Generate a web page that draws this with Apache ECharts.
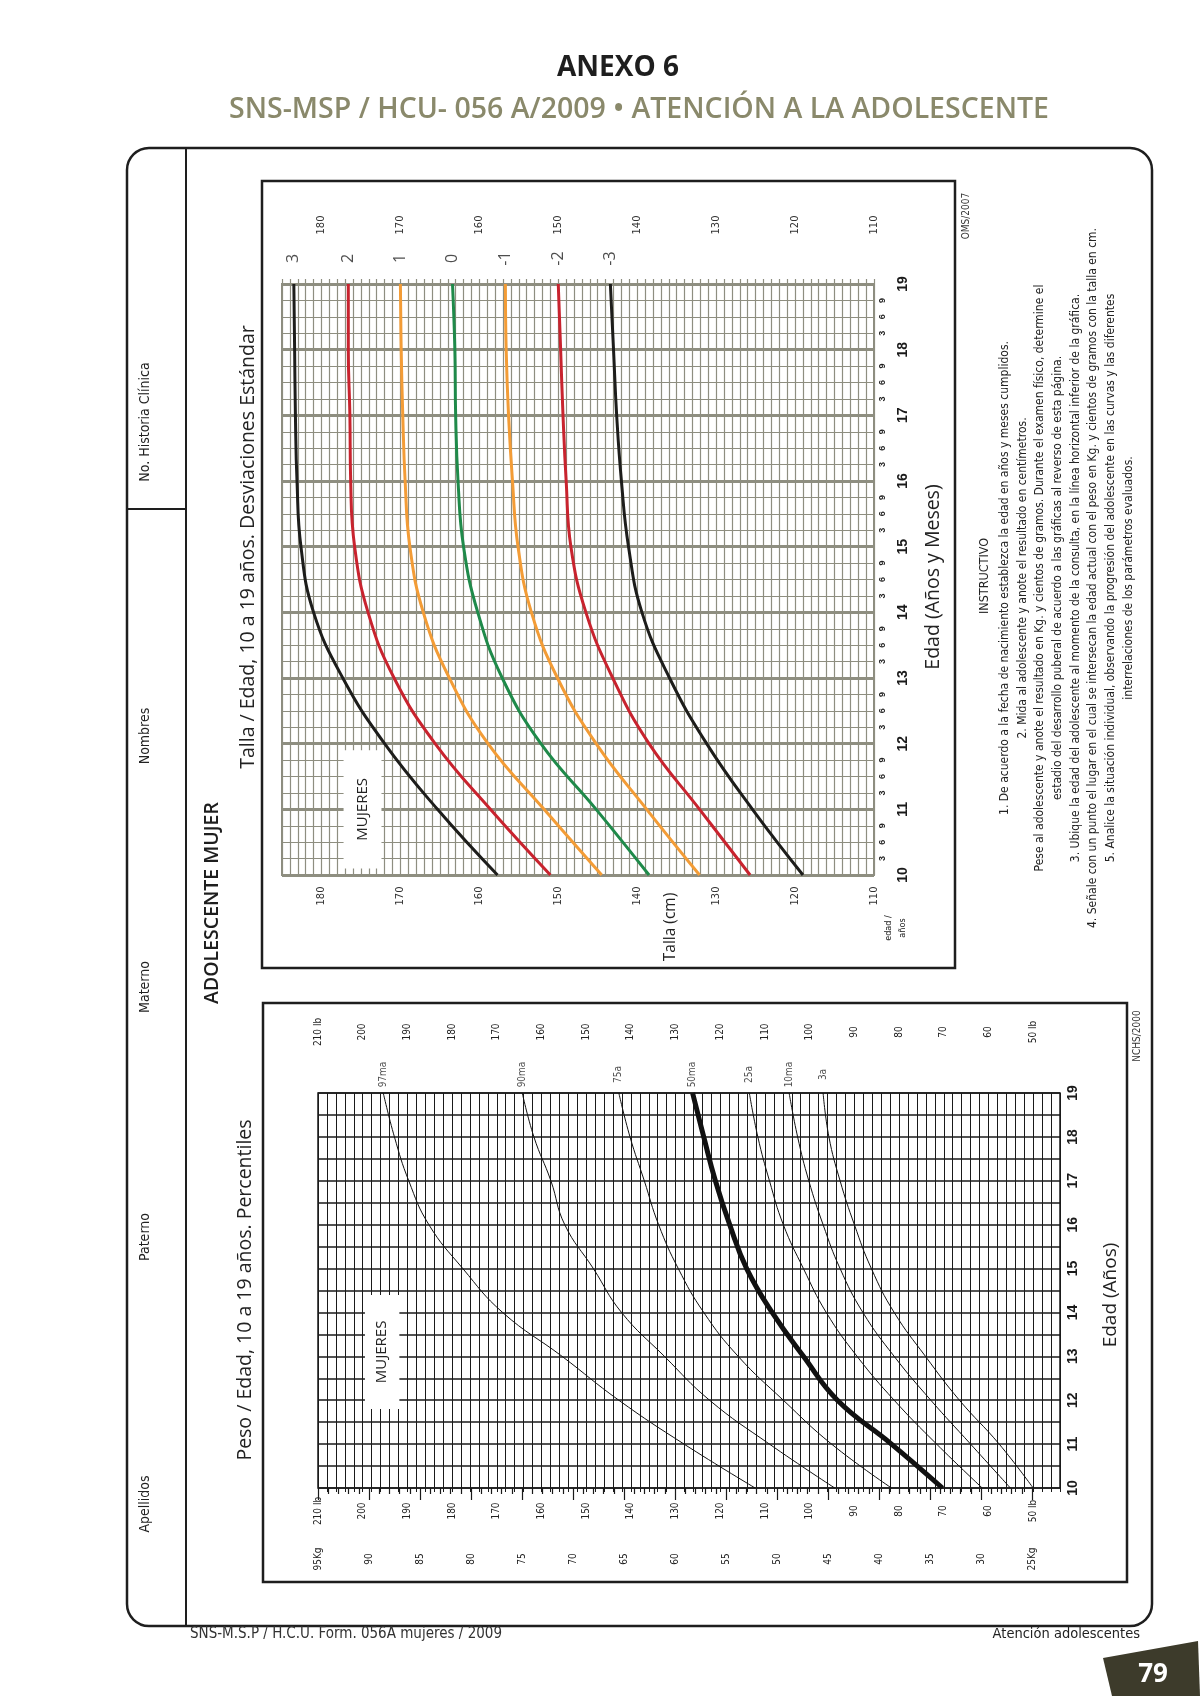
<!DOCTYPE html>
<html>
<head>
<meta charset="utf-8">
<title>Anexo 6 - Atención a la adolescente</title>
<script src="https://cdn.jsdelivr.net/npm/echarts@6.0.0/dist/echarts.min.js"></script>
<style>
  html, body { margin: 0; padding: 0; background: #fff; }
  #main { width: 1200px; height: 1696px; }
</style>
</head>
<body>
<div id="main"></div>
<script>
const edades = [10, 11, 12, 13, 14, 15, 16, 17, 18, 19];

// Talla / Edad (cm), desviaciones estándar OMS 2007
const tallaDE3  = [157.7, 165.3, 172.0, 177.3, 181.0, 182.6, 183.1, 183.3, 183.4, 183.5];
const tallaDE2  = [151.0, 158.6, 165.6, 170.8, 174.1, 175.8, 176.3, 176.4, 176.6, 176.6];
const tallaDE1  = [144.5, 151.8, 158.9, 163.8, 167.1, 168.8, 169.4, 169.7, 169.9, 170.0];
const tallaDE0  = [138.5, 145.2, 152.2, 157.1, 160.2, 162.0, 162.7, 163.0, 163.1, 163.4];
const tallaDEm1 = [132.1, 138.8, 145.2, 150.1, 153.4, 155.1, 155.8, 156.3, 156.6, 156.7];
const tallaDEm2 = [125.7, 132.1, 138.5, 143.1, 146.5, 148.4, 149.0, 149.4, 149.7, 150.0];
const tallaDEm3 = [119.0, 125.4, 131.2, 135.9, 139.4, 141.1, 142.0, 142.6, 143.0, 143.4];
const etiquetasDE = ['3', '2', '1', '0', '-1', '-2', '-3'];

// Peso / Edad (lb), percentiles NCHS 2000
const pesoP97 = [112.2, 128.1, 142.7, 155.4, 168.7, 177.6, 185.2, 189.7, 192.9, 195.4];
const pesoP90 = [94.4, 109.0, 122.4, 132.5, 142.1, 148.4, 154.8, 157.9, 161.7, 164.3];
const pesoP75 = [81.7, 95.1, 105.9, 116.0, 123.7, 129.4, 133.8, 137.0, 140.2, 142.7];
const pesoP50 = [70.3, 81.7, 93.8, 101.4, 108.4, 114.1, 117.9, 121.1, 123.7, 126.2];
const pesoP25 = [61.4, 71.6, 81.1, 89.4, 96.3, 101.4, 105.9, 109.0, 111.6, 113.5];
const pesoP10 = [55.1, 64.0, 72.9, 81.1, 88.1, 93.2, 97.0, 100.2, 102.7, 104.6];
const pesoP3  = [50.0, 57.6, 66.5, 74.1, 81.1, 86.2, 90.0, 93.2, 95.7, 97.0];
const etiquetasPercentil = ['97ma', '90ma', '75a', '50ma', '25a', '10ma', '3a'];

const camposFicha = ['Apellidos', 'Paterno', 'Materno', 'Nombres', 'No. Historia Clínica'];
const instructivo = [
    '1. De acuerdo a la fecha de nacimiento establezca la edad en años y meses cumplidos.',
    '2. Mida al adolescente y anote el resultado en centímetros.',
    'Pese al adolescente y anote el resultado en Kg. y cientos de gramos. Durante el examen físico, determine el',
    'estadio del desarrollo puberal de acuerdo a las gráficas al reverso de esta página.',
    '3. Ubique la edad del adolescente al momento de la consulta, en la línea horizontal inferior de la gráfica.',
    '4. Señale con un punto el lugar en el cual se intersecan la edad actual con el peso en Kg. y cientos de gramos con la talla en cm.',
    '5. Analice la situación individual, observando la progresión del adolescente en las curvas y las diferentes',
    'interrelaciones de los parámetros evaluados.'
];

const COND = "'DejaVu Sans Condensed', 'Liberation Sans Narrow', sans-serif";
const GRIS = '#8e8e80';

// texto girado 90° (se lee de abajo hacia arriba)
const vtext = (txt, x, y, font, fill, align) => ({
    type: 'text', x: x, y: y, rotation: Math.PI / 2, silent: true,
    style: {
        text: txt, font: font, fill: fill || '#222',
        align: align || 'center', textAlign: align || 'center',
        verticalAlign: 'middle', textVerticalAlign: 'middle'
    }
});
const htext = (txt, x, y, font, fill, align) => ({
    type: 'text', x: x, y: y, silent: true,
    style: {
        text: txt, font: font, fill: fill || '#222',
        align: align || 'center', textAlign: align || 'center',
        verticalAlign: 'middle', textVerticalAlign: 'middle'
    }
});

const curvasTalla = [tallaDE3, tallaDE2, tallaDE1, tallaDE0, tallaDEm1, tallaDEm2, tallaDEm3];
const coloresTalla = ['#1d1d1b', '#c8232e', '#f39c36', '#1f8a4a', '#f39c36', '#c8232e', '#1d1d1b'];
const curvasPeso = [pesoP97, pesoP90, pesoP75, pesoP50, pesoP25, pesoP10, pesoP3];

const cajaMujeres = {
    silent: true,
    itemStyle: { color: '#fff', opacity: 1 },
    label: { show: true, position: 'inside', rotate: 90, formatter: 'MUJERES', fontSize: 15, color: '#222', fontFamily: 'Open Sans' }
};

const seriesTalla = curvasTalla.map((c, i) => ({
    name: 'DE ' + etiquetasDE[i],
    type: 'line', xAxisIndex: 0, yAxisIndex: 1,
    data: c.map((v, k) => [v, edades[k]]),
    showSymbol: false, smooth: 0.45,
    lineStyle: { color: coloresTalla[i], width: 3 },
    markArea: i === 0 ? Object.assign({ data: [[{ coord: [177.2, 11.9] }, { coord: [172.4, 10.1] }]] }, cajaMujeres) : undefined
}));

const seriesPeso = curvasPeso.map((c, i) => ({
    name: 'P ' + etiquetasPercentil[i],
    type: 'line', xAxisIndex: 2, yAxisIndex: 2,
    data: c.map((v, k) => [v, edades[k]]),
    showSymbol: false, smooth: 0.45,
    lineStyle: { color: '#111', width: i === 3 ? 5 : 1 },
    markArea: i === 0 ? Object.assign({ data: [[{ coord: [199.5, 14.4] }, { coord: [191.8, 11.8] }]] }, cajaMujeres) : undefined
}));

const ultimo = edades.length - 1;
const cmLabel = v => (v % 10 === 0 ? String(v) : '');
const lbLabel = v => (v % 10 === 0 && v >= 50 ? (v === 210 || v === 50 ? v + ' lb' : String(v)) : '');

const chart = echarts.init(document.getElementById('main'), null, { renderer: 'canvas' });
chart.setOption({
    backgroundColor: '#fff',
    animation: false,
    grid: [
        { left: 282, top: 284, width: 592, height: 591, show: true, borderColor: GRIS, borderWidth: 2 },
        { left: 318, top: 1093, width: 742, height: 395, show: true, borderColor: '#1a1a1a', borderWidth: 1.5 },
        { left: 318, top: 1093, width: 714, height: 395, show: false }
    ],
    xAxis: [
        {   // talla, abajo
            gridIndex: 0, type: 'value', min: 110, max: 185, interval: 1, inverse: true, position: 'bottom',
            axisLine: { show: false }, axisTick: { show: false },
            splitLine: { show: true, lineStyle: { color: GRIS, width: 1.2 } },
            axisLabel: {
                rotate: 90, align: 'center', verticalAlign: 'middle', margin: 21,
                fontSize: 11, color: '#333', fontFamily: COND, formatter: cmLabel
            }
        },
        {   // talla, marcas arriba
            gridIndex: 0, type: 'value', min: 110, max: 185, interval: 1, inverse: true, position: 'top',
            axisLine: { show: false },
            axisTick: { show: true, length: 5, lineStyle: { color: GRIS, width: 1.2 } },
            splitLine: { show: false }, axisLabel: { show: false }
        },
        {   // peso lb, abajo
            gridIndex: 1, type: 'value', min: 44, max: 210, interval: 2, inverse: true, position: 'bottom',
            axisLine: { show: false },
            axisTick: { show: true, length: 4, lineStyle: { color: '#1a1a1a' } },
            splitLine: { show: true, lineStyle: { color: '#1a1a1a', width: 1 } },
            axisLabel: {
                rotate: 90, align: 'center', verticalAlign: 'middle', margin: 23,
                fontSize: 10, color: '#222', fontFamily: COND, formatter: lbLabel
            }
        },
        {   // peso lb, fila superior de etiquetas
            gridIndex: 1, type: 'value', min: 44, max: 210, interval: 2, inverse: true, position: 'bottom', offset: -456,
            axisLine: { show: false }, axisTick: { show: false }, splitLine: { show: false },
            axisLabel: {
                rotate: 90, align: 'center', verticalAlign: 'middle', margin: 0,
                fontSize: 10, color: '#222', fontFamily: COND, formatter: lbLabel
            }
        },
        {   // peso kg
            gridIndex: 2, type: 'value', min: 25, max: 95, interval: 5, inverse: true, position: 'bottom', offset: 45,
            axisLine: { show: false },
            axisTick: { show: true, length: 12, lineStyle: { color: '#1a1a1a', width: 1.2 } },
            minorTick: { show: true, splitNumber: 5, length: 6, lineStyle: { color: '#1a1a1a', width: 1.2 } },
            splitLine: { show: false },
            axisLabel: {
                rotate: 90, align: 'center', verticalAlign: 'middle', margin: 26,
                fontSize: 10, color: '#222', fontFamily: COND,
                formatter: v => (v === 95 || v === 25 ? v + 'Kg' : String(v))
            }
        },
        {   // talla, fila superior de etiquetas
            gridIndex: 0, type: 'value', min: 110, max: 185, interval: 1, inverse: true, position: 'bottom', offset: -650,
            axisLine: { show: false }, axisTick: { show: false }, splitLine: { show: false },
            axisLabel: {
                rotate: 90, align: 'center', verticalAlign: 'middle', margin: 0,
                fontSize: 11, color: '#333', fontFamily: COND, formatter: cmLabel
            }
        }
    ],
    yAxis: [
        {   // edad talla, trimestres
            gridIndex: 0, type: 'value', min: 10, max: 19, interval: 0.25, position: 'right',
            axisLine: { show: false }, axisTick: { show: false },
            splitLine: { show: true, lineStyle: { color: GRIS, width: 1.2 } },
            axisLabel: {
                rotate: 90, align: 'center', verticalAlign: 'middle', margin: 9,
                fontSize: 9, fontWeight: 'bold', color: '#222', fontFamily: 'Liberation Sans',
                formatter: v => ['', '3', '6', '9'][Math.round((v % 1) * 4)] || ''
            }
        },
        {   // edad talla, años
            gridIndex: 0, type: 'value', min: 10, max: 19, interval: 1, position: 'right',
            axisLine: { show: false }, axisTick: { show: false },
            splitLine: { show: true, lineStyle: { color: GRIS, width: 3 } },
            axisLabel: {
                rotate: 90, align: 'center', verticalAlign: 'middle', margin: 29,
                fontSize: 14, fontWeight: 'bold', color: '#1a1a1a', fontFamily: 'Liberation Sans'
            }
        },
        {   // edad peso
            gridIndex: 1, type: 'value', min: 10, max: 19, interval: 0.5, position: 'right',
            axisLine: { show: false }, axisTick: { show: false },
            splitLine: { show: true, lineStyle: { color: '#1a1a1a', width: 1.5 } },
            axisLabel: {
                rotate: 90, align: 'center', verticalAlign: 'middle', margin: 13,
                fontSize: 14, fontWeight: 'bold', color: '#1a1a1a', fontFamily: 'Liberation Sans',
                formatter: v => (v % 1 === 0 ? String(v) : '')
            }
        },
        { gridIndex: 2, type: 'value', min: 0, max: 1, show: false }
    ],
    series: seriesTalla.concat(seriesPeso).concat([
        {
            name: 'etiquetas DE', type: 'scatter', xAxisIndex: 0, yAxisIndex: 1, silent: true,
            symbolSize: 1, itemStyle: { color: 'rgba(0,0,0,0)' },
            data: curvasTalla.map((c, i) => ({ name: etiquetasDE[i], value: [c[ultimo], edades[ultimo]] })),
            label: {
                show: true, formatter: '{b}', position: 'top', distance: 25, rotate: 90,
                align: 'center', verticalAlign: 'middle', fontSize: 16, color: '#222', fontFamily: 'Open Sans'
            }
        },
        {
            name: 'etiquetas percentil', type: 'scatter', xAxisIndex: 2, yAxisIndex: 2, silent: true,
            symbolSize: 1, itemStyle: { color: 'rgba(0,0,0,0)' },
            data: curvasPeso.map((c, i) => ({ name: etiquetasPercentil[i], value: [c[ultimo], edades[ultimo]] })),
            label: {
                show: true, formatter: '{b}', position: 'top', distance: 18, rotate: 90,
                align: 'center', verticalAlign: 'middle', fontSize: 10, color: '#222', fontFamily: COND
            }
        }
    ]),
    graphic: {
        elements: [
            htext('ANEXO 6', 618, 68, "bold 28px 'Open Sans', sans-serif", '#1e1e1e'),
            htext('SNS-MSP / HCU- 056 A/2009 • ATENCIÓN A LA ADOLESCENTE', 639, 110, "600 28.5px 'Open Sans', sans-serif", '#8a896b'),

            // ficha
            { type: 'rect', shape: { x: 127, y: 148, width: 1025, height: 1478, r: 22 }, style: { fill: 'none', stroke: '#1e1e1e', lineWidth: 2.5 } },
            { type: 'line', shape: { x1: 186, y1: 148, x2: 186, y2: 1626 }, style: { stroke: '#1e1e1e', lineWidth: 2 } },
            { type: 'line', shape: { x1: 127, y1: 509, x2: 186, y2: 509 }, style: { stroke: '#1e1e1e', lineWidth: 2 } },
            vtext(camposFicha[0], 145, 1504, '14px ' + COND),
            vtext(camposFicha[1], 145, 1237, '14px ' + COND),
            vtext(camposFicha[2], 145, 987, '14px ' + COND),
            vtext(camposFicha[3], 145, 736, '14px ' + COND),
            vtext(camposFicha[4], 145, 422, '14px ' + COND),

            vtext('ADOLESCENTE MUJER', 212, 903, "600 19.5px 'Open Sans', sans-serif", '#1e1e1e'),

            // talla
            { type: 'rect', shape: { x: 262, y: 181, width: 693, height: 787 }, style: { fill: 'none', stroke: '#1e1e1e', lineWidth: 2.5 } },
            vtext('Talla / Edad, 10 a 19 años. Desviaciones Estándar', 248, 547, "19.5px 'Open Sans', sans-serif", '#222'),
            vtext('Talla (cm)', 671, 927, "15.5px 'Open Sans', sans-serif", '#222'),
            vtext('edad /', 889, 928, '9px ' + COND, '#222'),
            vtext('años', 903, 928, '9px ' + COND, '#222'),
            vtext('Edad (Años y Meses)', 933, 577, "19.5px 'Open Sans', sans-serif", '#222'),
            vtext('OMS/2007', 966, 216, '10px ' + COND, '#333'),

            // instructivo
            vtext('INSTRUCTIVO', 985, 576, '12.5px ' + COND, '#222'),
            vtext(instructivo[0], 1005, 578, '12px ' + COND, '#222'),
            vtext(instructivo[1], 1023, 578, '12px ' + COND, '#222'),
            vtext(instructivo[2], 1040, 578, '12px ' + COND, '#222'),
            vtext(instructivo[3], 1058, 578, '12px ' + COND, '#222'),
            vtext(instructivo[4], 1076, 578, '12px ' + COND, '#222'),
            vtext(instructivo[5], 1093, 578, '12px ' + COND, '#222'),
            vtext(instructivo[6], 1111, 578, '12px ' + COND, '#222'),
            vtext(instructivo[7], 1129, 578, '12px ' + COND, '#222'),

            // peso
            { type: 'rect', shape: { x: 263, y: 1003, width: 864, height: 579 }, style: { fill: 'none', stroke: '#1e1e1e', lineWidth: 2.5 } },
            vtext('Peso / Edad, 10 a 19 años. Percentiles', 245, 1290, "19.5px 'Open Sans', sans-serif", '#222'),
            vtext('Edad (Años)', 1111, 1295, "19px 'Open Sans', sans-serif", '#222'),
            vtext('NCHS/2000', 1137, 1036, '10px ' + COND, '#333'),

            // pie de página
            htext('SNS-M.S.P / H.C.U. Form. 056A mujeres / 2009', 190, 1634, '15px ' + COND, '#333', 'left'),
            htext('Atención adolescentes', 1140, 1634, '14.5px ' + COND, '#222', 'right'),
            { type: 'polygon', shape: { points: [[1103, 1658], [1198, 1641], [1200, 1696], [1112, 1696]] }, style: { fill: '#3d3b2b' } },
            htext('79', 1153, 1675, "bold 26px 'Open Sans', sans-serif", '#fff')
        ]
    }
});
</script>
</body>
</html>
